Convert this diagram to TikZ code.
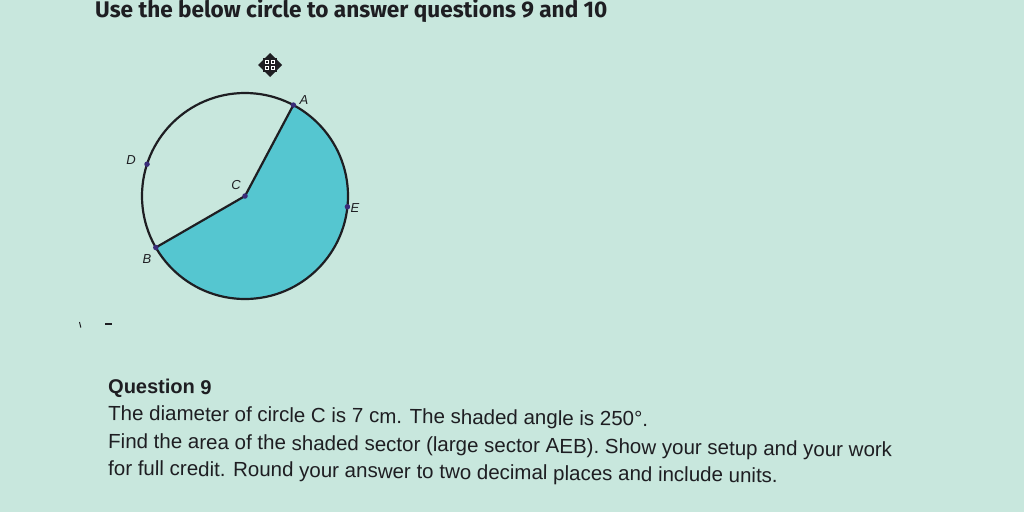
\documentclass[tikz,border=0pt]{standalone}
\usepackage{fontspec}
\usetikzlibrary{calc}
\setmainfont{Liberation Sans}
\newfontfamily\titlefont{Fira Sans}
\newfontfamily\qfont{Liberation Sans}
\definecolor{bgc}{HTML}{C8E7DD}
\definecolor{sectc}{HTML}{55C6D0}
\definecolor{dotc}{HTML}{3A2C78}
\definecolor{inkc}{HTML}{1E1E22}
\tikzset{
  lbl/.style={font=\itshape\fontsize{13}{15}\selectfont, inner sep=0pt, text=inkc},
  dotnode/.style={fill=dotc, circle, inner sep=0pt, minimum size=5.5pt},
  qline/.style={anchor=base west, inner sep=0pt, rotate=-0.65, text=inkc, font=\qfont\fontsize{20.5}{24}\selectfont},
}
\begin{document}
\begin{tikzpicture}[x=1pt,y=-1pt]
\useasboundingbox (0,0) rectangle (1024,512);
\fill[bgc] (0,0) rectangle (1024,512);
% title
\node[anchor=base west, inner sep=0pt, text=inkc, font=\titlefont\bfseries\fontsize{22.6}{26}\selectfont] (title) at (95,17) {Use the below circle to answer questions 9 and 10};
% move icon
\begin{scope}[shift={(270,65)}]
\fill[inkc] (0,-12) -- (12,0) -- (0,12) -- (-12,0) -- cycle;
\fill[inkc] (-7,-7) rectangle (7,7);
\foreach \sx in {-1,1}{\foreach \sy in {-1,1}{
  \draw[white, line width=0.8pt] (\sx*1.3,\sy*1.3) rectangle (\sx*4.5,\sy*4.5);
}}
\end{scope}
% circle
\coordinate (C) at (245,196);
\coordinate (A) at ($(C)+(-62:103)$);
\coordinate (B) at ($(C)+(150:103)$);
\coordinate (D) at ($(C)+(-162:103)$);
\coordinate (E) at ($(C)+(6:103)$);
\fill[sectc] (C) -- (A) arc[start angle=-62, end angle=150, radius=103] -- cycle;
\draw[inkc, line width=2.2pt] (C) circle[radius=103];
\draw[inkc, line width=2.2pt, line join=round] (A) -- (C) -- (B);
\foreach \p in {A,B,C,D,E}{\node[dotnode] (d\p) at (\p) {};}
\node[lbl] (lA) at (304,100) {A};
\node[lbl] (lD) at (131,160) {D};
\node[lbl] (lC) at (236,185) {C};
\node[lbl] (lE) at (355,208) {E};
\node[lbl] (lB) at (147,259) {B};
% small marks
\draw[inkc, line width=1pt] (79.5,322) -- (80.8,327.5);
\draw[inkc, line width=1.2pt] (105,324) -- (112,324);
% question text
\node[qline, font=\qfont\bfseries\fontsize{20}{24}\selectfont] (q9) at (108,393) {Question 9};
\node[qline] (l1) at (108,420) {The diameter of circle C is 7 cm. The shaded angle is 250°.};
\node[qline] (l2) at (108,448) {Find the area of the shaded sector (large sector AEB). Show your setup and your work};
\node[qline] (l3) at (108,475) {for full credit. Round your answer to two decimal places and include units.};
\end{tikzpicture}
\end{document}
